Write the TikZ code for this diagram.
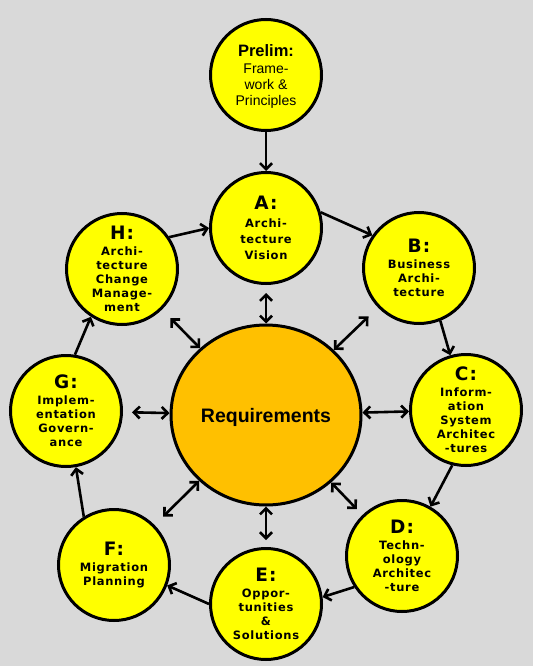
\documentclass[tikz,border=0pt]{standalone}
\usepackage{fontspec}
\setmainfont{DejaVu Sans}
\newfontfamily\bodyfont{DejaVu Sans}[LetterSpace=6]
\newfontfamily\lsans{Liberation Sans}
\usetikzlibrary{arrows.meta,shapes.geometric}
\definecolor{bg}{HTML}{D9D9D9}
\definecolor{yel}{HTML}{FFFF00}
\definecolor{org}{HTML}{FFC000}
\newcommand\hd[1]{{\fontsize{18.5}{14}\selectfont #1}\\[2pt]}
\begin{document}
\begin{tikzpicture}[x=1pt,y=-1pt,
  phase/.style={circle, draw=black, line width=3pt, fill=yel, minimum size=111pt,
    inner sep=0pt, align=center, font=\bodyfont\bfseries\fontsize{11.5}{14}\selectfont},
  tip/.tip={Straight Barb[length=6pt,width=12pt]},
  flow/.style={line width=2.6pt, -tip},
  both/.style={line width=2.6pt, tip-tip}]
\fill[bg] (0,0) rectangle (533,666);
\useasboundingbox (0,0) rectangle (533,666);

\node[phase, font=\lsans\fontsize{14}{16}\selectfont, text depth=-2pt] (P) at (266,75)
  {{\bfseries\fontsize{16.5}{16}\selectfont Prelim:}\\[1pt]Frame-\\work \&\\Principles};
\node[phase, font=\bodyfont\bfseries\fontsize{11.5}{16}\selectfont] (A) at (266,228)
  {\hd{A:}Archi-\\tecture\\Vision};
\node[phase] (B) at (419,268) {\hd{B:}Business\\Archi-\\tecture};
\node[phase] (C) at (466,410) {\hd{C:}Inform-\\ation\\System\\Architec\\-tures};
\node[phase] (D) at (402,556) {\hd{D:}Techn-\\ology\\Architec\\-ture};
\node[phase] (E) at (266,604) {\hd{E:}Oppor-\\tunities\\\&\\Solutions};
\node[phase] (F) at (114,565) {\hd{F:}Migration\\Planning};
\node[phase] (G) at (66,411) {\hd{G:}Implem-\\entation\\Govern-\\ance};
\node[phase] (H) at (122,269) {\hd{H:}Archi-\\tecture\\Change\\Manage-\\ment};

\node[ellipse, draw=black, line width=3pt, fill=org, minimum width=190pt,
  minimum height=180pt, inner sep=0pt, text depth=-3pt,
  font=\lsans\bfseries\fontsize{19.5}{20}\selectfont] (R) at (266,415) {Requirements};

\draw[flow] (P) -- (A);
\draw[flow] (A.16) -- (B.145);
\draw[flow] (B.-68) -- (C.106);
\draw[flow] (C.-104) -- (D.60);
\draw[flow] (D.213) -- (E.7);
\draw[flow] (E.180) -- (F.-21);
\draw[flow] (F.122) -- (G.-80);
\draw[flow] (G.81) -- (H.237);
\draw[flow] (H.34) -- (A.180);

\draw[both, shorten >=8pt] (R) -- (A);
\draw[both, shorten >=13pt] (R) -- (B);
\draw[both] (R) -- (C);
\draw[both, shorten >=8pt] (R) -- (D);
\draw[both, shorten >=7pt] (R) -- (E);
\draw[both, shorten >=12pt] (R) -- (F);
\draw[both, shorten >=9pt] (R) -- (G);
\draw[both, shorten >=12pt] (R) -- (H);
\end{tikzpicture}
\end{document}
